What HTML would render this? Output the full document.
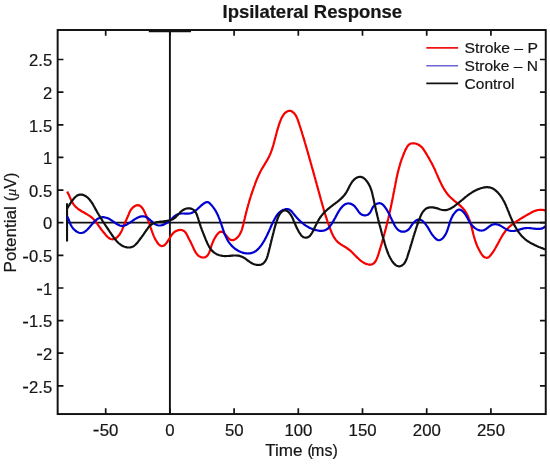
<!DOCTYPE html>
<html lang="en"><head><meta charset="utf-8"><title>Ipsilateral Response</title>
<style>html,body{margin:0;padding:0;background:#fff}body{width:550px;height:466px;overflow:hidden}svg{display:block}text{font-family:"Liberation Sans",sans-serif;fill:#161616;stroke:#161616;stroke-width:.2px;stroke-linejoin:round}</style>
</head><body>
<svg width="550" height="466" viewBox="0 0 550 466">
<rect width="550" height="466" fill="#fff"/>
<defs><clipPath id="c"><rect x="57.65" y="30.0" width="488.1" height="384.05"/></clipPath></defs>
<g clip-path="url(#c)" fill="none" stroke-linejoin="round" stroke-linecap="butt">
<path d="M67 222.7 L545.75 222.7" stroke="#111" stroke-width="1.8"/>
<path d="M169.9 30.0 L169.9 414.05" stroke="#111" stroke-width="1.9"/>
<path d="M148.8 31.0 L191 31.0" stroke="#111" stroke-width="2.4"/>
<path d="M67.05 203.3 L67.05 241.5" stroke="#111" stroke-width="2.1"/>
<path d="M67.2 191.5 L67.8 192.7 L68.4 193.9 L69.0 195.1 L69.5 196.4 L70.1 197.7 L70.6 198.9 L71.2 200.2 L71.9 201.4 L72.5 202.6 L73.2 203.8 L74.0 204.9 L74.9 206.0 L75.8 206.9 L76.8 207.8 L77.8 208.7 L78.9 209.5 L80.1 210.2 L81.2 211.0 L82.4 211.7 L83.6 212.3 L84.8 213.0 L86.0 213.7 L87.2 214.4 L88.3 215.1 L89.5 215.8 L90.6 216.6 L91.6 217.4 L92.6 218.3 L93.6 219.3 L94.5 220.3 L95.4 221.4 L96.3 222.5 L97.1 223.6 L97.9 224.7 L98.7 225.8 L99.5 226.9 L100.2 228.0 L101.0 229.0 L101.8 230.1 L102.6 231.1 L103.5 232.2 L104.4 233.3 L105.3 234.4 L106.3 235.6 L107.4 236.7 L108.5 237.7 L109.6 238.5 L110.8 239.0 L112.0 239.3 L113.2 239.2 L114.4 238.9 L115.6 238.3 L116.7 237.6 L117.8 236.6 L118.7 235.6 L119.6 234.5 L120.3 233.3 L121.0 232.1 L121.6 230.9 L122.2 229.6 L122.7 228.3 L123.2 227.0 L123.7 225.8 L124.2 224.5 L124.7 223.2 L125.3 222.0 L125.9 220.8 L126.4 219.6 L127.0 218.3 L127.5 217.1 L128.1 215.8 L128.6 214.6 L129.1 213.3 L129.7 212.0 L130.3 210.8 L131.0 209.6 L131.9 208.5 L133.0 207.4 L134.2 206.5 L135.4 205.8 L136.7 205.3 L137.9 205.2 L139.0 205.3 L140.0 205.8 L141.0 206.6 L141.9 207.5 L142.7 208.6 L143.4 209.8 L144.2 211.2 L144.8 212.5 L145.4 213.9 L146.0 215.2 L146.6 216.5 L147.1 217.8 L147.6 219.1 L148.1 220.4 L148.6 221.6 L149.0 222.9 L149.5 224.2 L149.9 225.4 L150.3 226.6 L150.7 227.9 L151.2 229.1 L151.6 230.4 L152.1 231.6 L152.5 232.9 L153.0 234.1 L153.5 235.4 L154.0 236.6 L154.6 237.9 L155.2 239.2 L156.0 240.5 L156.8 241.7 L157.6 243.0 L158.6 244.2 L159.7 245.2 L160.7 245.8 L161.8 246.1 L162.8 246.0 L163.9 245.5 L164.9 244.8 L165.8 243.8 L166.7 242.7 L167.6 241.5 L168.4 240.2 L169.1 239.0 L169.9 237.8 L170.6 236.5 L171.4 235.4 L172.2 234.3 L173.1 233.2 L174.0 232.3 L175.1 231.5 L176.3 230.9 L177.5 230.4 L178.9 230.1 L180.2 229.9 L181.5 230.0 L182.8 230.4 L184.0 231.0 L185.0 231.8 L185.8 232.9 L186.6 234.2 L187.3 235.5 L187.9 236.8 L188.5 238.1 L189.1 239.3 L189.8 240.5 L190.4 241.6 L191.0 242.7 L191.5 243.9 L192.1 245.1 L192.7 246.4 L193.3 247.7 L193.9 249.0 L194.6 250.4 L195.2 251.6 L196.0 252.9 L196.8 254.0 L197.7 255.0 L198.6 255.9 L199.7 256.6 L200.9 257.1 L202.1 257.4 L203.4 257.5 L204.7 257.4 L205.8 256.9 L206.8 256.2 L207.7 255.2 L208.4 254.1 L209.1 252.7 L209.7 251.3 L210.2 249.9 L210.6 248.4 L211.1 247.0 L211.5 245.6 L211.9 244.4 L212.4 243.1 L212.9 242.0 L213.4 240.8 L214.0 239.6 L214.7 238.3 L215.4 237.0 L216.3 235.7 L217.2 234.4 L218.2 233.3 L219.2 232.4 L220.2 231.8 L221.2 231.6 L222.3 231.8 L223.3 232.4 L224.3 233.4 L225.4 234.6 L226.4 235.8 L227.5 237.1 L228.5 238.3 L229.6 239.3 L230.8 239.9 L231.9 240.1 L233.1 240.1 L234.2 239.7 L235.3 239.2 L236.4 238.4 L237.3 237.5 L238.2 236.6 L239.0 235.6 L239.7 234.5 L240.3 233.3 L240.9 232.1 L241.4 230.9 L241.9 229.6 L242.3 228.3 L242.7 226.9 L243.0 225.6 L243.4 224.2 L243.7 222.8 L244.0 221.4 L244.3 220.0 L244.7 218.7 L245.0 217.3 L245.3 215.9 L245.7 214.6 L246.0 213.2 L246.3 211.9 L246.7 210.6 L247.0 209.2 L247.4 207.9 L247.8 206.6 L248.1 205.3 L248.5 204.0 L248.9 202.7 L249.2 201.4 L249.6 200.1 L250.0 198.8 L250.4 197.5 L250.8 196.3 L251.2 195.0 L251.7 193.7 L252.1 192.4 L252.5 191.2 L253.0 189.9 L253.4 188.6 L253.8 187.3 L254.3 186.1 L254.8 184.8 L255.2 183.5 L255.7 182.2 L256.2 181.0 L256.7 179.7 L257.2 178.4 L257.8 177.2 L258.3 175.9 L258.9 174.7 L259.5 173.4 L260.1 172.2 L260.7 171.0 L261.4 169.8 L262.0 168.6 L262.8 167.4 L263.5 166.2 L264.2 165.1 L264.9 163.9 L265.6 162.7 L266.3 161.6 L267.0 160.4 L267.7 159.2 L268.3 158.0 L269.0 156.8 L269.5 155.6 L270.1 154.4 L270.6 153.1 L271.1 151.9 L271.5 150.6 L272.0 149.4 L272.4 148.1 L272.8 146.8 L273.2 145.5 L273.6 144.2 L273.9 142.9 L274.3 141.6 L274.6 140.3 L275.0 138.9 L275.3 137.6 L275.7 136.3 L276.0 135.0 L276.4 133.6 L276.7 132.3 L277.1 131.0 L277.5 129.6 L277.9 128.3 L278.3 127.0 L278.7 125.6 L279.1 124.3 L279.6 123.0 L280.1 121.7 L280.6 120.4 L281.1 119.1 L281.7 117.8 L282.4 116.6 L283.1 115.4 L283.9 114.3 L284.7 113.3 L285.7 112.4 L286.8 111.7 L287.9 111.1 L289.2 110.8 L290.4 110.8 L291.6 111.3 L292.7 112.0 L293.7 112.8 L294.6 113.8 L295.4 114.9 L296.1 116.1 L296.7 117.3 L297.3 118.6 L297.8 119.9 L298.3 121.3 L298.7 122.7 L299.2 124.0 L299.6 125.3 L300.1 126.7 L300.5 128.0 L300.9 129.3 L301.3 130.6 L301.8 131.9 L302.1 133.2 L302.5 134.5 L302.9 135.8 L303.3 137.1 L303.7 138.3 L304.1 139.6 L304.5 140.9 L304.8 142.2 L305.2 143.5 L305.6 144.8 L306.0 146.1 L306.3 147.4 L306.7 148.7 L307.1 150.0 L307.5 151.3 L307.9 152.6 L308.2 153.9 L308.6 155.2 L309.0 156.5 L309.3 157.9 L309.7 159.2 L310.1 160.5 L310.5 161.8 L310.8 163.1 L311.2 164.4 L311.6 165.8 L311.9 167.1 L312.3 168.4 L312.7 169.7 L313.1 171.0 L313.4 172.4 L313.8 173.7 L314.2 175.0 L314.5 176.3 L314.9 177.6 L315.3 179.0 L315.6 180.3 L316.0 181.6 L316.4 182.9 L316.7 184.2 L317.1 185.6 L317.4 186.9 L317.8 188.2 L318.2 189.5 L318.5 190.8 L318.9 192.1 L319.2 193.4 L319.6 194.8 L320.0 196.1 L320.3 197.4 L320.7 198.7 L321.0 200.0 L321.4 201.3 L321.8 202.6 L322.1 203.9 L322.5 205.2 L322.9 206.5 L323.3 207.8 L323.6 209.1 L324.0 210.4 L324.4 211.7 L324.8 213.0 L325.2 214.3 L325.6 215.6 L326.0 216.9 L326.4 218.2 L326.9 219.5 L327.3 220.8 L327.7 222.1 L328.2 223.4 L328.7 224.7 L329.1 226.0 L329.6 227.3 L330.1 228.6 L330.6 229.9 L331.1 231.2 L331.6 232.5 L332.2 233.8 L332.8 235.0 L333.4 236.2 L334.1 237.4 L334.8 238.5 L335.6 239.6 L336.4 240.6 L337.3 241.6 L338.3 242.5 L339.4 243.3 L340.5 244.1 L341.6 244.8 L342.8 245.6 L344.0 246.3 L345.2 247.0 L346.4 247.7 L347.5 248.5 L348.6 249.3 L349.7 250.2 L350.8 251.1 L351.8 252.0 L352.8 253.0 L353.7 254.0 L354.7 255.0 L355.7 255.9 L356.6 256.9 L357.6 257.9 L358.6 258.8 L359.6 259.7 L360.6 260.6 L361.7 261.4 L362.8 262.1 L363.9 262.8 L365.1 263.4 L366.3 263.9 L367.7 264.3 L369.0 264.6 L370.4 264.7 L371.7 264.4 L372.9 263.9 L373.9 263.1 L374.9 262.1 L375.7 261.0 L376.3 259.8 L376.9 258.5 L377.4 257.2 L377.9 255.8 L378.4 254.4 L378.8 253.0 L379.2 251.7 L379.6 250.4 L380.0 249.1 L380.4 247.8 L380.8 246.5 L381.2 245.2 L381.6 243.9 L382.0 242.6 L382.3 241.3 L382.7 240.0 L383.1 238.7 L383.4 237.4 L383.8 236.1 L384.1 234.8 L384.5 233.5 L384.8 232.2 L385.2 230.9 L385.5 229.6 L385.9 228.3 L386.2 226.9 L386.5 225.6 L386.9 224.3 L387.2 223.0 L387.5 221.7 L387.8 220.3 L388.2 219.0 L388.5 217.7 L388.8 216.3 L389.1 215.0 L389.4 213.7 L389.7 212.3 L390.0 211.0 L390.3 209.6 L390.6 208.3 L390.9 207.0 L391.2 205.6 L391.4 204.3 L391.7 202.9 L392.0 201.6 L392.3 200.3 L392.5 198.9 L392.8 197.6 L393.1 196.2 L393.3 194.9 L393.6 193.6 L393.8 192.2 L394.1 190.9 L394.3 189.5 L394.6 188.2 L394.9 186.9 L395.1 185.5 L395.4 184.2 L395.6 182.9 L395.9 181.5 L396.2 180.2 L396.4 178.9 L396.7 177.5 L397.0 176.2 L397.3 174.9 L397.6 173.6 L397.9 172.2 L398.2 170.9 L398.6 169.6 L398.9 168.3 L399.3 167.0 L399.7 165.7 L400.0 164.4 L400.4 163.1 L400.8 161.7 L401.3 160.4 L401.7 159.1 L402.2 157.9 L402.7 156.6 L403.2 155.3 L403.7 154.0 L404.2 152.7 L404.8 151.4 L405.3 150.1 L406.0 148.9 L406.6 147.7 L407.3 146.5 L408.1 145.5 L409.0 144.6 L410.0 143.9 L411.2 143.5 L412.5 143.3 L413.9 143.3 L415.4 143.5 L416.8 144.0 L418.1 144.5 L419.3 145.2 L420.4 146.0 L421.4 146.9 L422.4 147.9 L423.2 149.0 L424.0 150.1 L424.8 151.3 L425.5 152.4 L426.2 153.6 L426.9 154.8 L427.6 156.0 L428.3 157.1 L429.0 158.3 L429.6 159.5 L430.3 160.7 L430.9 161.8 L431.6 163.0 L432.2 164.2 L432.8 165.4 L433.4 166.6 L434.0 167.9 L434.6 169.1 L435.2 170.3 L435.7 171.6 L436.3 172.9 L436.8 174.1 L437.4 175.4 L437.9 176.7 L438.5 177.9 L439.0 179.2 L439.6 180.4 L440.2 181.7 L440.8 182.9 L441.4 184.2 L442.0 185.4 L442.6 186.6 L443.3 187.8 L444.0 188.9 L444.7 190.1 L445.4 191.2 L446.2 192.3 L447.0 193.4 L447.8 194.5 L448.7 195.5 L449.6 196.5 L450.6 197.5 L451.6 198.4 L452.6 199.3 L453.6 200.2 L454.7 201.1 L455.8 201.9 L456.8 202.8 L457.9 203.7 L459.0 204.6 L460.0 205.4 L461.0 206.4 L461.9 207.3 L462.9 208.3 L463.7 209.3 L464.6 210.3 L465.3 211.4 L466.0 212.5 L466.7 213.7 L467.3 214.8 L467.9 216.1 L468.4 217.3 L468.9 218.6 L469.4 219.8 L469.9 221.1 L470.3 222.5 L470.7 223.8 L471.1 225.1 L471.4 226.5 L471.8 227.8 L472.1 229.2 L472.5 230.6 L472.8 231.9 L473.1 233.3 L473.5 234.7 L473.8 236.0 L474.2 237.3 L474.6 238.7 L475.0 240.0 L475.4 241.2 L475.8 242.5 L476.3 243.7 L476.8 245.0 L477.3 246.2 L477.8 247.3 L478.4 248.5 L479.1 249.7 L479.7 250.9 L480.4 252.2 L481.1 253.5 L481.9 254.7 L482.8 255.9 L483.9 256.8 L485.2 257.5 L486.4 257.8 L487.6 257.7 L488.7 257.2 L489.7 256.3 L490.6 255.3 L491.4 254.2 L492.2 253.1 L493.0 252.0 L493.8 250.8 L494.5 249.6 L495.2 248.5 L495.9 247.3 L496.5 246.1 L497.2 244.9 L497.9 243.7 L498.5 242.4 L499.2 241.2 L499.8 240.0 L500.5 238.8 L501.1 237.7 L501.8 236.5 L502.5 235.3 L503.2 234.2 L504.0 233.1 L504.8 232.0 L505.6 230.9 L506.4 229.9 L507.3 228.9 L508.2 227.9 L509.2 227.0 L510.2 226.1 L511.2 225.2 L512.3 224.3 L513.4 223.5 L514.5 222.7 L515.7 221.9 L516.8 221.1 L518.0 220.4 L519.2 219.7 L520.3 218.9 L521.5 218.2 L522.7 217.5 L523.9 216.8 L525.1 216.1 L526.3 215.4 L527.5 214.7 L528.7 214.0 L529.9 213.4 L531.0 212.7 L532.2 212.1 L533.4 211.5 L534.6 211.0 L535.8 210.6 L537.1 210.2 L538.4 210.0 L539.7 209.8 L541.1 209.8 L542.5 209.9 L544.0 210.1 L545.6 210.5" stroke="#f60000" stroke-width="2.2"/>
<path d="M67.2 216.5 L67.7 217.4 L68.1 218.3 L68.5 219.1 L68.9 220.0 L69.2 220.8 L69.5 221.7 L69.8 222.5 L70.1 223.3 L70.5 224.2 L70.8 225.0 L71.3 225.8 L71.7 226.6 L72.3 227.4 L72.9 228.2 L73.6 229.0 L74.3 229.7 L75.1 230.4 L75.9 231.0 L76.7 231.6 L77.5 232.1 L78.4 232.5 L79.2 232.8 L80.0 233.0 L80.9 233.0 L81.7 233.0 L82.5 232.8 L83.3 232.6 L84.0 232.2 L84.8 231.7 L85.5 231.2 L86.2 230.6 L86.9 230.0 L87.6 229.3 L88.3 228.6 L89.0 227.8 L89.7 227.0 L90.3 226.2 L91.0 225.5 L91.6 224.7 L92.3 223.9 L93.0 223.2 L93.6 222.4 L94.3 221.7 L95.0 221.0 L95.6 220.4 L96.3 219.8 L97.0 219.3 L97.8 218.8 L98.5 218.4 L99.3 218.0 L100.1 217.7 L100.9 217.5 L101.7 217.3 L102.6 217.2 L103.4 217.2 L104.3 217.3 L105.2 217.5 L106.1 217.7 L107.0 217.9 L107.9 218.3 L108.8 218.7 L109.6 219.1 L110.5 219.7 L111.4 220.2 L112.2 220.8 L113.1 221.4 L113.9 222.0 L114.8 222.6 L115.6 223.2 L116.4 223.8 L117.3 224.3 L118.1 224.7 L118.9 225.1 L119.7 225.5 L120.5 225.7 L121.4 225.9 L122.2 225.9 L123.0 225.8 L123.8 225.7 L124.6 225.5 L125.5 225.2 L126.3 224.8 L127.1 224.4 L127.9 223.9 L128.8 223.4 L129.6 222.9 L130.4 222.3 L131.2 221.7 L132.1 221.2 L132.9 220.6 L133.7 220.0 L134.5 219.4 L135.4 218.9 L136.2 218.4 L137.0 218.0 L137.9 217.5 L138.7 217.2 L139.5 216.9 L140.3 216.6 L141.2 216.4 L142.0 216.3 L142.8 216.3 L143.6 216.3 L144.4 216.5 L145.2 216.7 L146.0 217.0 L146.8 217.4 L147.6 217.9 L148.4 218.5 L149.1 219.1 L149.9 219.8 L150.7 220.5 L151.5 221.2 L152.3 221.9 L153.0 222.5 L153.8 223.2 L154.6 223.8 L155.4 224.3 L156.2 224.7 L157.1 225.1 L157.9 225.3 L158.8 225.5 L159.6 225.5 L160.5 225.5 L161.3 225.3 L162.2 225.1 L163.1 224.9 L163.9 224.5 L164.8 224.1 L165.6 223.6 L166.5 223.1 L167.3 222.6 L168.1 222.0 L168.8 221.3 L169.6 220.7 L170.3 220.0 L171.1 219.4 L171.8 218.7 L172.5 218.0 L173.2 217.4 L173.9 216.8 L174.6 216.2 L175.4 215.6 L176.1 215.1 L176.9 214.7 L177.7 214.3 L178.5 214.0 L179.4 213.8 L180.3 213.6 L181.2 213.5 L182.2 213.5 L183.2 213.5 L184.1 213.5 L185.1 213.6 L186.1 213.6 L187.1 213.6 L188.0 213.6 L189.0 213.5 L189.9 213.4 L190.8 213.2 L191.6 213.0 L192.4 212.6 L193.2 212.2 L193.9 211.8 L194.7 211.3 L195.4 210.8 L196.1 210.2 L196.8 209.6 L197.5 209.0 L198.2 208.3 L198.9 207.7 L199.6 207.0 L200.3 206.4 L201.0 205.7 L201.7 205.1 L202.5 204.5 L203.3 203.9 L204.1 203.3 L205.0 202.8 L205.8 202.4 L206.7 202.1 L207.5 202.1 L208.3 202.3 L209.0 202.7 L209.8 203.3 L210.4 204.0 L211.1 204.7 L211.7 205.4 L212.3 206.1 L212.9 206.9 L213.5 207.6 L214.0 208.4 L214.5 209.1 L215.0 209.9 L215.5 210.7 L216.0 211.5 L216.4 212.3 L216.9 213.1 L217.3 214.0 L217.7 214.8 L218.1 215.7 L218.4 216.5 L218.8 217.4 L219.1 218.2 L219.5 219.1 L219.8 220.0 L220.1 220.9 L220.4 221.8 L220.8 222.7 L221.1 223.6 L221.4 224.5 L221.7 225.4 L222.0 226.3 L222.3 227.2 L222.6 228.1 L222.9 229.0 L223.2 229.9 L223.5 230.8 L223.8 231.7 L224.1 232.6 L224.5 233.5 L224.8 234.4 L225.2 235.2 L225.6 236.1 L226.0 237.0 L226.4 237.8 L226.8 238.6 L227.2 239.5 L227.7 240.3 L228.1 241.1 L228.6 241.8 L229.2 242.6 L229.7 243.4 L230.3 244.1 L230.9 244.8 L231.5 245.5 L232.1 246.2 L232.8 246.8 L233.5 247.5 L234.3 248.1 L235.0 248.7 L235.8 249.2 L236.6 249.8 L237.4 250.3 L238.2 250.8 L239.1 251.2 L239.9 251.6 L240.8 252.0 L241.7 252.3 L242.6 252.6 L243.5 252.9 L244.4 253.1 L245.3 253.2 L246.1 253.4 L247.0 253.4 L247.9 253.5 L248.8 253.4 L249.7 253.4 L250.5 253.2 L251.4 253.1 L252.2 252.8 L253.0 252.5 L253.8 252.2 L254.6 251.7 L255.4 251.3 L256.1 250.8 L256.8 250.2 L257.5 249.6 L258.2 248.9 L258.9 248.2 L259.5 247.5 L260.1 246.7 L260.8 245.9 L261.4 245.1 L261.9 244.3 L262.5 243.4 L263.0 242.6 L263.6 241.7 L264.1 240.9 L264.6 240.0 L265.0 239.1 L265.5 238.3 L265.9 237.4 L266.4 236.6 L266.8 235.8 L267.2 234.9 L267.6 234.1 L268.0 233.3 L268.3 232.5 L268.7 231.7 L269.1 230.9 L269.4 230.0 L269.8 229.2 L270.2 228.4 L270.5 227.6 L270.9 226.8 L271.3 226.0 L271.6 225.1 L272.0 224.3 L272.4 223.5 L272.8 222.6 L273.2 221.8 L273.6 220.9 L274.1 220.0 L274.5 219.2 L275.0 218.3 L275.5 217.5 L276.0 216.6 L276.5 215.8 L277.1 215.0 L277.7 214.3 L278.3 213.5 L279.0 212.9 L279.6 212.2 L280.4 211.6 L281.1 211.0 L281.9 210.6 L282.8 210.1 L283.6 209.7 L284.5 209.5 L285.4 209.2 L286.3 209.1 L287.2 209.1 L288.1 209.2 L288.9 209.4 L289.7 209.8 L290.4 210.3 L291.1 210.9 L291.8 211.6 L292.4 212.3 L293.0 213.1 L293.6 213.8 L294.2 214.6 L294.8 215.4 L295.5 216.1 L296.1 216.9 L296.7 217.6 L297.4 218.3 L298.0 219.0 L298.7 219.7 L299.4 220.3 L300.1 221.0 L300.7 221.6 L301.4 222.2 L302.1 222.9 L302.9 223.4 L303.6 224.0 L304.3 224.6 L305.1 225.1 L305.8 225.6 L306.6 226.1 L307.4 226.6 L308.2 227.0 L309.0 227.5 L309.8 227.9 L310.6 228.3 L311.5 228.6 L312.3 229.0 L313.2 229.3 L314.1 229.6 L315.0 229.9 L315.9 230.1 L316.8 230.3 L317.8 230.5 L318.7 230.7 L319.7 230.8 L320.7 230.8 L321.6 230.8 L322.5 230.8 L323.4 230.6 L324.3 230.4 L325.2 230.1 L326.0 229.8 L326.8 229.3 L327.6 228.8 L328.3 228.2 L329.0 227.5 L329.6 226.7 L330.2 225.9 L330.8 225.1 L331.4 224.3 L331.9 223.5 L332.4 222.7 L332.9 221.9 L333.3 221.1 L333.8 220.4 L334.2 219.6 L334.6 218.8 L335.1 218.0 L335.5 217.2 L335.9 216.4 L336.3 215.6 L336.8 214.8 L337.2 214.0 L337.7 213.2 L338.1 212.4 L338.6 211.5 L339.2 210.7 L339.7 209.9 L340.3 209.0 L340.9 208.2 L341.5 207.5 L342.2 206.7 L342.8 206.0 L343.5 205.4 L344.3 204.8 L345.0 204.3 L345.8 203.9 L346.6 203.7 L347.5 203.5 L348.3 203.4 L349.2 203.5 L350.1 203.6 L351.0 203.9 L351.8 204.2 L352.6 204.7 L353.4 205.2 L354.2 205.8 L354.9 206.5 L355.5 207.3 L356.1 208.1 L356.7 208.9 L357.3 209.7 L357.9 210.6 L358.4 211.4 L359.0 212.2 L359.6 212.9 L360.3 213.6 L361.0 214.1 L361.7 214.6 L362.5 215.0 L363.4 215.2 L364.2 215.3 L365.1 215.4 L366.0 215.2 L366.9 215.0 L367.7 214.7 L368.5 214.2 L369.1 213.7 L369.7 213.0 L370.2 212.3 L370.7 211.5 L371.1 210.7 L371.6 209.8 L372.0 208.9 L372.4 208.0 L372.9 207.2 L373.5 206.4 L374.2 205.6 L374.9 205.0 L375.7 204.4 L376.5 203.9 L377.4 203.5 L378.3 203.3 L379.2 203.2 L380.1 203.2 L381.0 203.5 L381.8 203.9 L382.5 204.4 L383.2 205.0 L383.9 205.8 L384.5 206.5 L385.1 207.3 L385.7 208.1 L386.2 208.9 L386.7 209.7 L387.2 210.5 L387.7 211.3 L388.1 212.1 L388.5 212.8 L389.0 213.6 L389.4 214.4 L389.8 215.2 L390.2 216.0 L390.5 216.9 L390.9 217.7 L391.3 218.5 L391.7 219.4 L392.1 220.2 L392.5 221.1 L393.0 222.0 L393.4 222.9 L393.9 223.8 L394.3 224.7 L394.8 225.6 L395.3 226.4 L395.9 227.3 L396.5 228.1 L397.1 228.8 L397.7 229.5 L398.4 230.1 L399.1 230.6 L399.9 231.0 L400.6 231.4 L401.5 231.6 L402.4 231.7 L403.3 231.7 L404.2 231.6 L405.1 231.4 L406.0 231.1 L406.8 230.7 L407.6 230.3 L408.3 229.7 L408.9 229.1 L409.5 228.4 L410.1 227.6 L410.6 226.8 L411.1 226.0 L411.7 225.2 L412.3 224.3 L412.9 223.5 L413.6 222.7 L414.3 222.0 L415.1 221.3 L415.8 220.7 L416.6 220.2 L417.4 219.9 L418.2 219.6 L419.0 219.5 L419.8 219.6 L420.6 219.9 L421.4 220.2 L422.1 220.7 L422.9 221.3 L423.6 222.0 L424.3 222.7 L425.0 223.5 L425.6 224.2 L426.2 225.1 L426.8 225.9 L427.3 226.6 L427.8 227.4 L428.3 228.2 L428.7 229.0 L429.2 229.7 L429.6 230.5 L430.1 231.3 L430.5 232.0 L431.0 232.8 L431.5 233.6 L432.0 234.3 L432.6 235.1 L433.2 235.9 L433.8 236.7 L434.5 237.4 L435.2 238.2 L436.0 238.9 L436.8 239.6 L437.6 240.0 L438.4 240.2 L439.2 240.2 L440.0 240.0 L440.8 239.7 L441.5 239.2 L442.3 238.6 L442.9 238.0 L443.6 237.2 L444.2 236.5 L444.7 235.7 L445.2 234.9 L445.7 234.1 L446.1 233.3 L446.5 232.4 L446.9 231.6 L447.2 230.7 L447.5 229.8 L447.9 228.9 L448.1 228.0 L448.4 227.1 L448.7 226.2 L449.0 225.3 L449.3 224.4 L449.5 223.5 L449.8 222.6 L450.1 221.7 L450.4 220.8 L450.7 219.9 L451.1 219.1 L451.5 218.2 L451.8 217.4 L452.3 216.5 L452.7 215.7 L453.2 214.9 L453.7 214.1 L454.3 213.4 L454.9 212.6 L455.5 211.9 L456.2 211.2 L457.0 210.5 L457.7 210.0 L458.5 209.7 L459.3 209.6 L460.1 209.7 L460.9 210.0 L461.7 210.5 L462.4 211.1 L463.1 211.7 L463.8 212.5 L464.5 213.3 L465.1 214.1 L465.6 214.8 L466.1 215.7 L466.6 216.5 L467.1 217.3 L467.5 218.1 L467.9 218.9 L468.4 219.7 L468.8 220.5 L469.3 221.3 L469.7 222.1 L470.2 222.9 L470.7 223.7 L471.3 224.4 L471.9 225.2 L472.5 225.9 L473.2 226.6 L473.9 227.2 L474.6 227.9 L475.4 228.4 L476.2 228.9 L477.1 229.4 L477.9 229.8 L478.8 230.1 L479.6 230.4 L480.5 230.5 L481.3 230.6 L482.2 230.5 L483.1 230.4 L483.9 230.1 L484.7 229.7 L485.6 229.2 L486.4 228.7 L487.2 228.1 L488.0 227.5 L488.8 226.8 L489.6 226.2 L490.4 225.7 L491.2 225.2 L492.1 224.8 L493.0 224.5 L493.8 224.3 L494.7 224.2 L495.6 224.2 L496.5 224.3 L497.4 224.5 L498.3 224.7 L499.1 225.1 L500.0 225.4 L500.8 225.9 L501.6 226.4 L502.4 226.9 L503.2 227.4 L504.0 227.9 L504.8 228.4 L505.7 228.9 L506.5 229.4 L507.3 229.8 L508.2 230.2 L509.0 230.5 L509.9 230.7 L510.9 230.9 L511.8 231.0 L512.7 231.0 L513.7 231.0 L514.6 230.8 L515.5 230.7 L516.4 230.5 L517.3 230.2 L518.2 229.9 L519.1 229.6 L520.0 229.4 L520.9 229.1 L521.8 228.8 L522.8 228.6 L523.7 228.4 L524.6 228.2 L525.5 228.1 L526.4 228.1 L527.3 228.0 L528.3 228.0 L529.2 228.1 L530.1 228.2 L531.1 228.2 L532.0 228.4 L532.9 228.5 L533.9 228.6 L534.8 228.7 L535.8 228.8 L536.7 228.9 L537.7 228.9 L538.6 228.9 L539.5 228.9 L540.4 228.8 L541.3 228.6 L542.2 228.4 L543.0 228.0 L543.8 227.6 L544.6 227.0 L545.4 226.4" stroke="#0000d0" stroke-width="2.2"/>
<path d="M67.2 208.3 L67.8 207.4 L68.4 206.4 L69.0 205.5 L69.6 204.6 L70.2 203.7 L70.8 202.7 L71.4 201.8 L72.0 200.9 L72.7 200.0 L73.4 199.1 L74.2 198.2 L75.0 197.3 L75.9 196.5 L76.8 195.8 L77.8 195.2 L78.8 194.8 L79.8 194.6 L80.8 194.5 L81.9 194.6 L82.9 194.9 L83.9 195.2 L84.9 195.7 L85.8 196.2 L86.7 196.8 L87.5 197.5 L88.3 198.2 L89.0 199.0 L89.7 199.8 L90.4 200.7 L91.1 201.6 L91.7 202.5 L92.4 203.5 L93.0 204.5 L93.5 205.5 L94.1 206.5 L94.7 207.5 L95.2 208.6 L95.8 209.6 L96.4 210.6 L96.9 211.6 L97.5 212.6 L98.1 213.5 L98.6 214.5 L99.2 215.4 L99.8 216.4 L100.3 217.3 L100.9 218.2 L101.5 219.2 L102.1 220.1 L102.6 221.0 L103.2 221.9 L103.8 222.8 L104.4 223.7 L105.0 224.6 L105.6 225.5 L106.2 226.4 L106.8 227.3 L107.4 228.3 L108.1 229.2 L108.7 230.1 L109.3 231.0 L109.9 231.9 L110.6 232.9 L111.2 233.8 L111.8 234.8 L112.5 235.7 L113.2 236.6 L113.8 237.6 L114.5 238.5 L115.2 239.4 L116.0 240.3 L116.7 241.2 L117.5 242.0 L118.3 242.8 L119.1 243.5 L120.0 244.2 L120.9 244.9 L121.8 245.5 L122.8 246.0 L123.8 246.5 L124.8 246.8 L125.9 247.1 L127.0 247.4 L128.1 247.5 L129.2 247.5 L130.3 247.4 L131.3 247.2 L132.3 246.8 L133.3 246.4 L134.2 245.8 L135.1 245.0 L135.9 244.2 L136.7 243.4 L137.5 242.5 L138.2 241.6 L138.9 240.6 L139.6 239.7 L140.3 238.8 L140.9 238.0 L141.6 237.1 L142.2 236.2 L142.9 235.4 L143.5 234.5 L144.1 233.6 L144.7 232.7 L145.4 231.7 L146.0 230.7 L146.7 229.8 L147.4 228.8 L148.1 227.8 L148.8 226.9 L149.6 226.1 L150.4 225.3 L151.2 224.6 L152.1 224.0 L153.0 223.5 L154.0 223.1 L155.0 222.7 L156.1 222.4 L157.1 222.2 L158.2 222.0 L159.3 221.8 L160.4 221.7 L161.6 221.6 L162.7 221.5 L163.8 221.3 L164.9 221.2 L166.0 221.1 L167.1 220.9 L168.2 220.7 L169.3 220.5 L170.3 220.2 L171.3 219.8 L172.3 219.4 L173.3 218.9 L174.2 218.3 L175.1 217.6 L175.9 216.9 L176.7 216.0 L177.6 215.2 L178.4 214.3 L179.2 213.5 L180.0 212.6 L180.8 211.8 L181.7 211.0 L182.6 210.3 L183.6 209.7 L184.5 209.2 L185.6 208.8 L186.6 208.5 L187.7 208.4 L188.8 208.3 L189.8 208.4 L190.9 208.6 L191.8 208.9 L192.7 209.4 L193.6 209.9 L194.3 210.6 L195.0 211.4 L195.6 212.3 L196.2 213.3 L196.7 214.3 L197.1 215.4 L197.5 216.6 L197.9 217.7 L198.3 218.9 L198.6 220.1 L199.0 221.2 L199.3 222.3 L199.7 223.4 L200.0 224.5 L200.4 225.6 L200.7 226.6 L201.1 227.6 L201.5 228.6 L201.8 229.6 L202.2 230.6 L202.6 231.6 L203.0 232.6 L203.4 233.6 L203.8 234.6 L204.2 235.6 L204.6 236.6 L205.0 237.6 L205.4 238.7 L205.8 239.7 L206.3 240.8 L206.7 241.8 L207.2 242.9 L207.7 243.9 L208.2 245.0 L208.8 246.0 L209.3 247.0 L210.0 248.0 L210.6 248.9 L211.3 249.8 L212.0 250.6 L212.8 251.4 L213.6 252.1 L214.5 252.8 L215.4 253.4 L216.3 253.9 L217.3 254.4 L218.3 254.8 L219.3 255.2 L220.4 255.5 L221.5 255.7 L222.6 255.9 L223.7 256.0 L224.8 256.1 L225.9 256.1 L227.0 256.0 L228.1 256.0 L229.3 255.9 L230.4 255.8 L231.5 255.6 L232.6 255.6 L233.8 255.5 L234.9 255.5 L236.0 255.5 L237.1 255.6 L238.3 255.7 L239.4 255.9 L240.4 256.2 L241.5 256.6 L242.5 257.0 L243.5 257.5 L244.5 258.1 L245.4 258.7 L246.3 259.4 L247.2 260.1 L248.1 260.8 L249.1 261.4 L250.0 262.1 L251.0 262.7 L251.9 263.3 L253.0 263.8 L254.0 264.2 L255.1 264.5 L256.2 264.8 L257.3 264.9 L258.4 265.0 L259.4 264.9 L260.5 264.8 L261.4 264.5 L262.3 264.0 L263.2 263.5 L263.9 262.8 L264.6 262.0 L265.2 261.2 L265.8 260.2 L266.3 259.2 L266.8 258.1 L267.2 257.0 L267.6 255.8 L267.9 254.6 L268.2 253.4 L268.6 252.3 L268.9 251.1 L269.1 250.0 L269.4 248.9 L269.7 247.8 L270.0 246.7 L270.2 245.6 L270.5 244.6 L270.7 243.5 L271.0 242.5 L271.2 241.5 L271.5 240.4 L271.7 239.4 L272.0 238.3 L272.2 237.3 L272.5 236.2 L272.8 235.2 L273.0 234.1 L273.3 233.1 L273.6 232.0 L273.8 230.9 L274.1 229.9 L274.4 228.8 L274.7 227.7 L275.0 226.6 L275.3 225.5 L275.7 224.5 L276.0 223.4 L276.4 222.3 L276.7 221.2 L277.1 220.1 L277.5 219.0 L277.9 217.9 L278.4 216.8 L278.8 215.7 L279.4 214.7 L280.0 213.7 L280.7 212.8 L281.5 212.0 L282.3 211.3 L283.2 210.8 L284.2 210.4 L285.1 210.3 L286.0 210.5 L286.9 210.9 L287.8 211.4 L288.6 212.1 L289.4 213.0 L290.1 213.9 L290.8 214.9 L291.4 215.9 L292.0 216.9 L292.5 217.9 L293.0 219.0 L293.4 220.0 L293.8 221.1 L294.2 222.1 L294.7 223.1 L295.1 224.1 L295.5 225.1 L296.0 226.1 L296.4 227.1 L296.9 228.0 L297.4 229.0 L298.0 230.1 L298.5 231.1 L299.1 232.2 L299.7 233.2 L300.4 234.2 L301.1 235.2 L301.8 236.0 L302.7 236.7 L303.6 237.2 L304.5 237.5 L305.5 237.7 L306.5 237.6 L307.5 237.4 L308.4 237.0 L309.3 236.4 L310.1 235.6 L310.8 234.7 L311.5 233.7 L312.1 232.7 L312.7 231.6 L313.3 230.6 L313.8 229.5 L314.3 228.5 L314.7 227.5 L315.2 226.5 L315.7 225.5 L316.2 224.5 L316.7 223.5 L317.2 222.5 L317.7 221.5 L318.3 220.6 L318.8 219.6 L319.4 218.7 L320.0 217.7 L320.7 216.8 L321.3 215.9 L322.0 215.1 L322.7 214.2 L323.4 213.4 L324.2 212.6 L325.0 211.8 L325.8 211.0 L326.6 210.3 L327.4 209.5 L328.2 208.8 L329.1 208.1 L330.0 207.4 L330.9 206.7 L331.7 206.1 L332.6 205.4 L333.5 204.7 L334.4 204.0 L335.3 203.4 L336.2 202.7 L337.1 202.0 L337.9 201.3 L338.8 200.6 L339.6 199.9 L340.5 199.2 L341.3 198.4 L342.1 197.6 L342.8 196.9 L343.6 196.0 L344.3 195.2 L345.0 194.3 L345.6 193.5 L346.2 192.5 L346.8 191.6 L347.3 190.6 L347.9 189.6 L348.4 188.6 L348.9 187.5 L349.4 186.5 L349.9 185.5 L350.5 184.5 L351.1 183.5 L351.7 182.5 L352.3 181.6 L353.1 180.7 L353.8 179.9 L354.7 179.1 L355.6 178.4 L356.6 177.8 L357.7 177.3 L358.7 177.0 L359.7 176.8 L360.7 176.9 L361.7 177.1 L362.7 177.5 L363.6 178.0 L364.4 178.7 L365.3 179.4 L366.0 180.3 L366.8 181.2 L367.5 182.1 L368.1 183.1 L368.7 184.1 L369.2 185.1 L369.7 186.1 L370.2 187.1 L370.6 188.2 L371.0 189.2 L371.4 190.3 L371.7 191.3 L372.0 192.4 L372.3 193.4 L372.5 194.5 L372.8 195.6 L373.0 196.7 L373.3 197.7 L373.5 198.8 L373.7 199.9 L374.0 201.0 L374.2 202.1 L374.4 203.2 L374.7 204.3 L374.9 205.4 L375.2 206.4 L375.4 207.5 L375.6 208.6 L375.9 209.7 L376.1 210.8 L376.4 211.9 L376.7 213.0 L376.9 214.1 L377.2 215.2 L377.4 216.3 L377.7 217.3 L378.0 218.4 L378.2 219.5 L378.5 220.6 L378.8 221.7 L379.1 222.8 L379.3 223.9 L379.6 225.0 L379.9 226.0 L380.2 227.1 L380.5 228.2 L380.8 229.3 L381.1 230.4 L381.3 231.4 L381.6 232.5 L381.9 233.6 L382.2 234.6 L382.5 235.7 L382.8 236.8 L383.1 237.9 L383.4 238.9 L383.8 240.0 L384.1 241.0 L384.4 242.1 L384.7 243.2 L385.0 244.2 L385.3 245.3 L385.6 246.3 L385.9 247.4 L386.3 248.4 L386.6 249.4 L387.0 250.5 L387.3 251.5 L387.7 252.6 L388.2 253.6 L388.6 254.6 L389.1 255.7 L389.6 256.7 L390.1 257.7 L390.7 258.7 L391.3 259.8 L391.9 260.8 L392.6 261.8 L393.3 262.7 L394.1 263.6 L394.9 264.4 L395.7 265.1 L396.6 265.7 L397.5 266.0 L398.4 266.3 L399.4 266.3 L400.4 266.1 L401.4 265.7 L402.3 265.2 L403.2 264.5 L404.0 263.7 L404.7 262.8 L405.3 261.9 L405.8 260.8 L406.3 259.8 L406.7 258.7 L407.1 257.6 L407.5 256.4 L407.8 255.3 L408.2 254.2 L408.5 253.1 L408.9 252.0 L409.2 250.9 L409.6 249.8 L409.9 248.8 L410.2 247.7 L410.5 246.6 L410.8 245.6 L411.2 244.5 L411.5 243.5 L411.8 242.4 L412.1 241.4 L412.4 240.4 L412.7 239.3 L413.0 238.3 L413.3 237.3 L413.6 236.2 L414.0 235.2 L414.3 234.2 L414.6 233.1 L414.9 232.1 L415.3 231.1 L415.6 230.0 L415.9 229.0 L416.3 227.9 L416.6 226.8 L417.0 225.8 L417.4 224.7 L417.7 223.6 L418.1 222.5 L418.5 221.4 L418.9 220.3 L419.3 219.2 L419.8 218.1 L420.2 217.0 L420.7 215.9 L421.2 214.8 L421.7 213.8 L422.3 212.8 L422.9 211.8 L423.6 211.0 L424.3 210.2 L425.0 209.5 L425.8 208.8 L426.7 208.3 L427.6 207.9 L428.6 207.6 L429.7 207.4 L430.8 207.3 L431.9 207.3 L433.0 207.4 L434.1 207.6 L435.2 207.8 L436.3 208.1 L437.4 208.4 L438.5 208.8 L439.6 209.2 L440.6 209.5 L441.7 209.8 L442.8 210.0 L443.8 210.2 L444.8 210.2 L445.9 210.1 L446.9 209.9 L448.0 209.6 L449.0 209.2 L450.1 208.8 L451.1 208.2 L452.1 207.6 L453.1 207.0 L454.1 206.3 L455.0 205.6 L456.0 204.9 L456.9 204.2 L457.8 203.5 L458.7 202.8 L459.5 202.1 L460.4 201.4 L461.2 200.7 L462.1 200.0 L462.9 199.3 L463.7 198.6 L464.6 197.9 L465.4 197.2 L466.3 196.5 L467.1 195.9 L468.0 195.2 L468.9 194.5 L469.8 193.9 L470.7 193.3 L471.6 192.7 L472.5 192.1 L473.4 191.5 L474.4 191.0 L475.4 190.5 L476.4 190.0 L477.4 189.5 L478.5 189.1 L479.6 188.7 L480.7 188.3 L481.8 188.0 L482.9 187.7 L484.1 187.4 L485.2 187.3 L486.4 187.2 L487.5 187.2 L488.6 187.3 L489.7 187.4 L490.7 187.7 L491.7 188.1 L492.7 188.6 L493.7 189.1 L494.6 189.7 L495.5 190.4 L496.3 191.1 L497.1 191.8 L497.9 192.6 L498.6 193.4 L499.3 194.3 L500.0 195.1 L500.7 196.0 L501.3 196.9 L501.9 197.8 L502.5 198.8 L503.0 199.7 L503.6 200.7 L504.1 201.6 L504.6 202.6 L505.0 203.6 L505.5 204.6 L506.0 205.6 L506.4 206.7 L506.9 207.7 L507.3 208.7 L507.7 209.8 L508.1 210.8 L508.6 211.9 L509.0 212.9 L509.4 214.0 L509.8 215.0 L510.3 216.1 L510.7 217.2 L511.2 218.2 L511.6 219.2 L512.1 220.3 L512.5 221.3 L513.0 222.3 L513.5 223.4 L514.0 224.4 L514.5 225.4 L515.1 226.4 L515.6 227.3 L516.2 228.3 L516.7 229.3 L517.3 230.2 L517.9 231.1 L518.6 232.0 L519.2 232.9 L519.9 233.8 L520.6 234.6 L521.3 235.5 L522.0 236.3 L522.8 237.0 L523.6 237.8 L524.4 238.5 L525.2 239.3 L526.0 239.9 L526.9 240.6 L527.8 241.2 L528.8 241.8 L529.7 242.4 L530.7 243.0 L531.7 243.5 L532.7 244.1 L533.7 244.6 L534.7 245.1 L535.8 245.5 L536.8 246.0 L537.8 246.4 L538.9 246.9 L539.9 247.3 L540.9 247.7 L542.0 248.1 L543.0 248.6 L544.0 249.0 L545.0 249.4" stroke="#111" stroke-width="2.2"/>
</g>
<rect x="57.65" y="30.0" width="488.1" height="384.05" fill="none" stroke="#111" stroke-width="1.95"/>
<path d="M105.7 414.05 v-5.8 M105.7 30.0 v5.8 M169.9 414.05 v-5.8 M169.9 30.0 v5.8 M234.1 414.05 v-5.8 M234.1 30.0 v5.8 M298.3 414.05 v-5.8 M298.3 30.0 v5.8 M362.5 414.05 v-5.8 M362.5 30.0 v5.8 M426.7 414.05 v-5.8 M426.7 30.0 v5.8 M490.9 414.05 v-5.8 M490.9 30.0 v5.8 M57.65 385.9 h5.8 M545.75 385.9 h-5.8 M57.65 353.2 h5.8 M545.75 353.2 h-5.8 M57.65 320.6 h5.8 M545.75 320.6 h-5.8 M57.65 288.0 h5.8 M545.75 288.0 h-5.8 M57.65 255.3 h5.8 M545.75 255.3 h-5.8 M57.65 222.7 h5.8 M545.75 222.7 h-5.8 M57.65 190.1 h5.8 M545.75 190.1 h-5.8 M57.65 157.4 h5.8 M545.75 157.4 h-5.8 M57.65 124.8 h5.8 M545.75 124.8 h-5.8 M57.65 92.2 h5.8 M545.75 92.2 h-5.8 M57.65 59.5 h5.8 M545.75 59.5 h-5.8" stroke="#111" stroke-width="1.7" fill="none"/>
<text transform="translate(105.5 435.5) scale(1.055 1)" font-size="15.9" text-anchor="middle" font-weight="normal"><tspan font-size="19" dy="0.55">-</tspan><tspan dy="-0.55" dx="0.2">50</tspan></text>
<text transform="translate(170.0 435.5) scale(1.055 1)" font-size="15.9" text-anchor="middle" font-weight="normal">0</text>
<text transform="translate(234.2 435.5) scale(1.055 1)" font-size="15.9" text-anchor="middle" font-weight="normal">50</text>
<text transform="translate(298.4 435.5) scale(1.055 1)" font-size="15.9" text-anchor="middle" font-weight="normal">100</text>
<text transform="translate(362.6 435.5) scale(1.055 1)" font-size="15.9" text-anchor="middle" font-weight="normal">150</text>
<text transform="translate(426.8 435.5) scale(1.055 1)" font-size="15.9" text-anchor="middle" font-weight="normal">200</text>
<text transform="translate(491.0 435.5) scale(1.055 1)" font-size="15.9" text-anchor="middle" font-weight="normal">250</text>
<text transform="translate(52.2 392.6) scale(1.045 1)" font-size="15.9" text-anchor="end" font-weight="normal"><tspan font-size="19" dy="0.55">-</tspan><tspan dy="-0.55" dx="0.2">2.5</tspan></text>
<text transform="translate(52.2 359.9) scale(1.045 1)" font-size="15.9" text-anchor="end" font-weight="normal"><tspan font-size="19" dy="0.55">-</tspan><tspan dy="-0.55" dx="0.2">2</tspan></text>
<text transform="translate(52.2 327.3) scale(1.045 1)" font-size="15.9" text-anchor="end" font-weight="normal"><tspan font-size="19" dy="0.55">-</tspan><tspan dy="-0.55" dx="0.2">1.5</tspan></text>
<text transform="translate(52.2 294.7) scale(1.045 1)" font-size="15.9" text-anchor="end" font-weight="normal"><tspan font-size="19" dy="0.55">-</tspan><tspan dy="-0.55" dx="0.2">1</tspan></text>
<text transform="translate(52.2 262.0) scale(1.045 1)" font-size="15.9" text-anchor="end" font-weight="normal"><tspan font-size="19" dy="0.55">-</tspan><tspan dy="-0.55" dx="0.2">0.5</tspan></text>
<text transform="translate(52.2 229.4) scale(1.045 1)" font-size="15.9" text-anchor="end" font-weight="normal">0</text>
<text transform="translate(52.2 196.8) scale(1.045 1)" font-size="15.9" text-anchor="end" font-weight="normal">0.5</text>
<text transform="translate(52.2 164.1) scale(1.045 1)" font-size="15.9" text-anchor="end" font-weight="normal">1</text>
<text transform="translate(52.2 131.5) scale(1.045 1)" font-size="15.9" text-anchor="end" font-weight="normal">1.5</text>
<text transform="translate(52.2 98.9) scale(1.045 1)" font-size="15.9" text-anchor="end" font-weight="normal">2</text>
<text transform="translate(52.2 66.2) scale(1.045 1)" font-size="15.9" text-anchor="end" font-weight="normal">2.5</text>
<text transform="translate(265.15 456.3) scale(1.013 1)" font-size="15.8"><tspan x="0" textLength="36.82" lengthAdjust="spacingAndGlyphs">Time</tspan><tspan dx="0.5"> (</tspan><tspan dx="-1.6">ms)</tspan></text>
<text transform="translate(15.5 272.5) rotate(-90) scale(1.013 1)" font-size="15.8"><tspan x="0" textLength="65.55" lengthAdjust="spacingAndGlyphs">Potential</tspan><tspan x="65.84"> (</tspan><tspan font-family="'Liberation Serif',serif" font-style="italic" font-size="14.3">μ</tspan>V)</text>
<text transform="translate(312.3 17.6) scale(1.056 1)" font-size="17.5" text-anchor="middle" font-weight="bold">Ipsilateral Response</text>
<path d="M426.3 47.90 L458.1 47.90" stroke="#ee1414" stroke-width="1.6" fill="none"/>
<text transform="translate(464.6 53.4) scale(1.021 1)" font-size="15.4" text-anchor="start" font-weight="normal">Stroke – P</text>
<path d="M426.3 65.75 L458.1 65.75" stroke="#6c66d2" stroke-width="1.3" fill="none"/>
<text transform="translate(464.6 71.0) scale(1.03 1)" font-size="15.1" text-anchor="start" font-weight="normal">Stroke – N</text>
<path d="M426.3 83.35 L458.1 83.35" stroke="#111" stroke-width="1.7" fill="none"/>
<text transform="translate(464.6 88.9) scale(1.032 1)" font-size="15.0" text-anchor="start" font-weight="normal">Control</text>
</svg>
</body></html>
